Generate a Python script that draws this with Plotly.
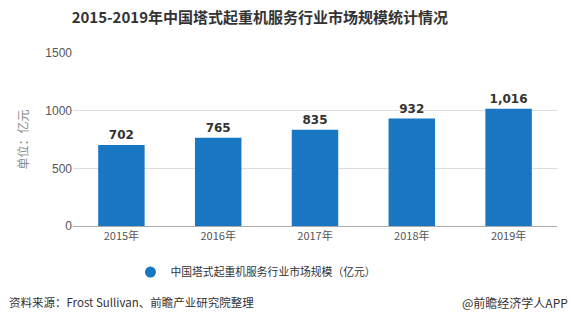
import plotly.graph_objects as go

years = ["2015年", "2016年", "2017年", "2018年", "2019年"]
values = [702, 765, 835, 932, 1016]
series_name = "中国塔式起重机服务行业市场规模（亿元）"
title = "2015-2019年中国塔式起重机服务行业市场规模统计情况"
y_title = "单位：亿元"
source = "资料来源：Frost Sullivan、前瞻产业研究院整理"
credit = "@前瞻经济学人APP"

font_cjk = "Noto Sans CJK SC"
bar_color = "#1876c2"

fig = go.Figure()
fig.add_trace(go.Bar(
    x=years, y=values, name=series_name, showlegend=False,
    marker=dict(color=bar_color, line=dict(width=0)),
    text=values, texttemplate="%{y:,}", textposition="outside",
    textfont=dict(family="Verdana, DejaVu Sans", size=12, color="#333333", weight="bold"),
    cliponaxis=False,
))
# legend entry with circle symbol
fig.add_trace(go.Scatter(
    x=[None], y=[None], mode="markers", name=series_name,
    marker=dict(symbol="circle", size=11, color=bar_color),
))

fig.update_layout(
    width=571, height=327,
    margin=dict(l=73, r=14, t=53, b=101),
    paper_bgcolor="white", plot_bgcolor="white",
    bargap=0.52,
    showlegend=True,
    title=dict(text=title, x=0.455, xanchor="center", y=0.945, yanchor="middle",
               font=dict(family=font_cjk, size=15, color="#333333", weight="bold")),
    legend=dict(orientation="h", x=0.378, xanchor="center", y=-0.266, yanchor="middle",
                font=dict(family=font_cjk, size=10.8, color="#333333"),
                itemwidth=30),
    xaxis=dict(showgrid=False, showline=True, linecolor="#aaaaaa", linewidth=1,
               ticks="", tickfont=dict(family=font_cjk, size=11, color="#555555")),
    yaxis=dict(range=[0, 1500], tickvals=[0, 500, 1000, 1500], tickformat="d",
               showgrid=True, gridcolor="#dddddd", gridwidth=1, zeroline=False,
               tickfont=dict(family="Arial, Liberation Sans", size=12, color="#555555"),
               title=dict(text=y_title, font=dict(family=font_cjk, size=12, color="#8a8a8a"),
                          standoff=14)),
    font=dict(family=font_cjk),
)

fig.add_annotation(text=source, x=-0.136, y=-0.44, xref="paper", yref="paper",
                   showarrow=False, xanchor="left", yanchor="middle",
                   font=dict(family=font_cjk, size=11.5, color="#333333"))
fig.add_annotation(text=credit, x=1.027, y=-0.44, xref="paper", yref="paper",
                   showarrow=False, xanchor="right", yanchor="middle",
                   font=dict(family=font_cjk, size=12, color="#333333"))

fig.write_html("out.html")
